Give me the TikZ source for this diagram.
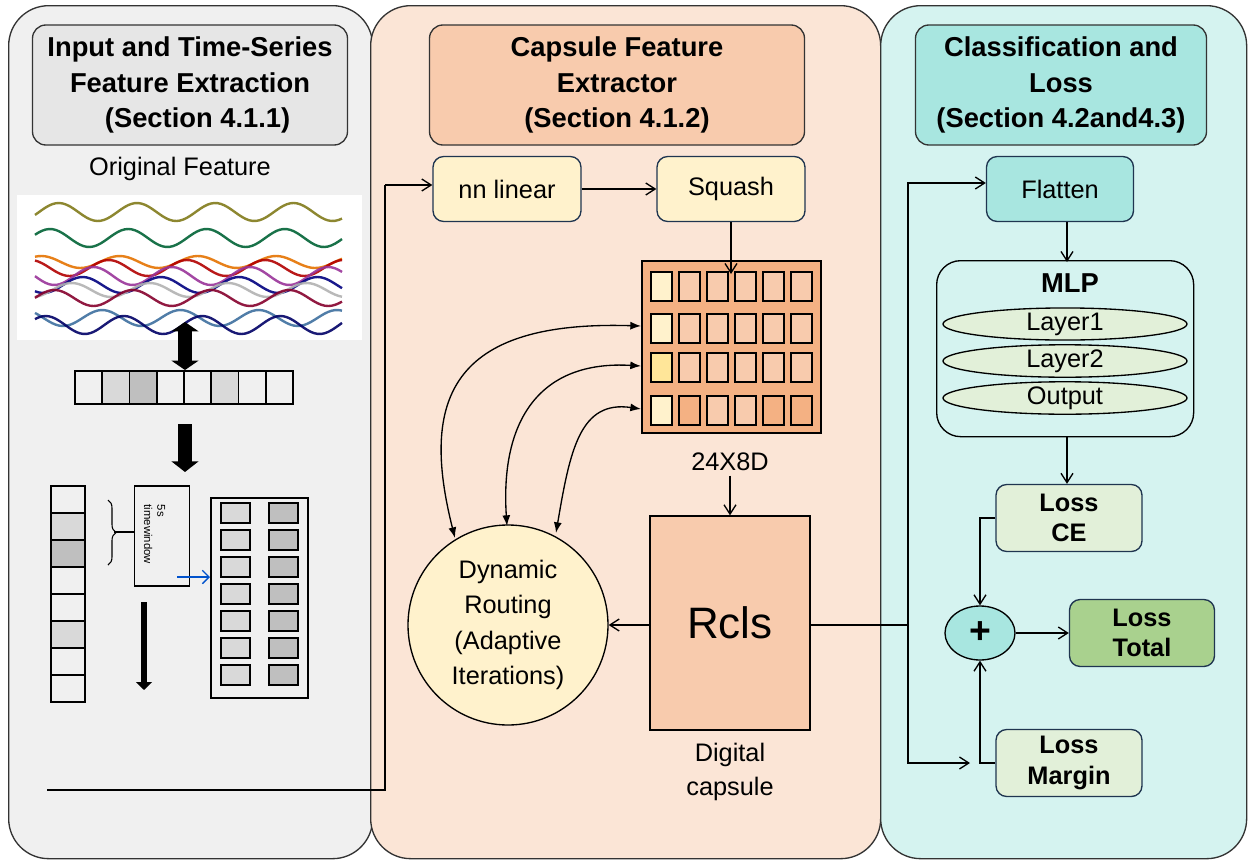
\documentclass[tikz,border=0pt]{standalone}
\usepackage{fontspec}
\setmainfont{Liberation Sans}
\usetikzlibrary{arrows.meta,shapes.geometric,decorations.pathreplacing}
\definecolor{pgray}{HTML}{F0F0F0}
\definecolor{hgray}{HTML}{E6E6E6}
\definecolor{ppeach}{HTML}{FBE5D6}
\definecolor{hpeach}{HTML}{F8CBAD}
\definecolor{dpeach}{HTML}{F4B183}
\definecolor{pcyan}{HTML}{D5F3F0}
\definecolor{hcyan}{HTML}{A8E6E0}
\definecolor{cream}{HTML}{FFF2CC}
\definecolor{ylw}{HTML}{FFE699}
\definecolor{lgreen}{HTML}{E2F0D9}
\definecolor{mgreen}{HTML}{A9D18E}
\definecolor{lg}{HTML}{D9D9D9}
\definecolor{mg}{HTML}{BFBFBF}
\definecolor{bord}{HTML}{1F3550}
\begin{document}
\begin{tikzpicture}[x=0.75pt,y=-0.75pt,
  panel/.style={draw=black!80,line width=1pt,rounded corners=30pt},
  head/.style={draw=black!80,line width=1pt,rounded corners=10pt,align=center,font=\fontsize{20.5}{26.5}\selectfont\bfseries},
  box/.style={draw=bord,line width=1pt,rounded corners=8pt,align=center,font=\fontsize{19}{22}\selectfont},
  bbox/.style={box,font=\fontsize{19}{23}\selectfont\bfseries},
  conn/.style={line width=1pt,-{Straight Barb[length=7pt,width=9pt]}},
  carr/.style={line width=1pt,{Latex[length=8pt]}-{Latex[length=8pt]}},
  cell/.style={draw=black,line width=1.4pt},
  lbl/.style={font=\fontsize{19}{26}\selectfont,align=center}]
\useasboundingbox (0,0) rectangle (1254,864);
% panels
\node[panel,fill=pgray,minimum width=364*0.75pt,minimum height=853*0.75pt,anchor=north west] (P1) at (8,5) {};
\node[panel,fill=ppeach,minimum width=510*0.75pt,minimum height=853*0.75pt,anchor=north west] (P2) at (370,5) {};
\node[panel,fill=pcyan,minimum width=366*0.75pt,minimum height=853*0.75pt,anchor=north west] (P3) at (880,5) {};
% headers
\node[head,fill=hgray,minimum width=315*0.75pt,minimum height=120*0.75pt] (H1) at (190,85) {Input and Time-Series\\Feature Extraction\\\ \ (Section 4.1.1)};
\node[head,fill=hpeach,minimum width=375*0.75pt,minimum height=120*0.75pt] (H2) at (617,85) {Capsule Feature\\Extractor\\(Section 4.1.2)};
\node[head,fill=hcyan,minimum width=291*0.75pt,minimum height=120*0.75pt] (H3) at (1061,85) {Classification and\\Loss\\(Section 4.2and4.3)};
% left panel
\node[lbl] (of) at (180,169) {Original Feature};
\node[fill=white,minimum width=345*0.75pt,minimum height=145*0.75pt,anchor=north west,inner sep=0] (img) at (17,195) {};
\foreach \y/\c/\ph/\a in {212/{olive!90!yellow!80!black}/0/9, 238/{teal!70!green!60!black}/40/9, 262/orange!90!black/80/6, 268/red!70!black/130/8, 276/violet!80/200/9, 285/{blue!50!black}/250/8, 290/gray!60/300/7, 298/purple!70!black/20/8, 318/{cyan!60!blue!70!black}/160/8, 325/{blue!40!black}/60/9}
  \draw[color=\c,line width=1.8pt,opacity=.9] plot[domain=35:342,samples=90,smooth] (\x,{\y+\a*sin(4.6*\x+\ph)});
\draw[line width=11pt,{Triangle[length=7pt,width=20pt]}-{Triangle[length=7pt,width=20pt]}] (185,322) -- (185,370);
\foreach \i/\f in {0/pgray,1/lg,2/mg,3/pgray,4/pgray,5/lg,6/pgray,7/pgray}
  \node[cell,fill=\f,minimum width=27.25*0.75pt,minimum height=33*0.75pt,inner sep=0,anchor=north west] (s\i) at ({74+27.25*\i},370) {};
\draw[line width=11pt,-{Triangle[length=8pt,width=20pt]}] (185,424) -- (185,472);
\foreach \i/\f in {0/pgray,1/lg,2/mg,3/pgray,4/pgray,5/lg,6/pgray,7/pgray}
  \node[cell,fill=\f,minimum width=34*0.75pt,minimum height=27*0.75pt,inner sep=0,anchor=north west] (v\i) at (50,{485+27*\i}) {};
\draw[line width=0.8pt,decorate,decoration={brace,amplitude=6pt}] (108,500) -- (108,565);
\draw[line width=0.8pt] (114,532) -- (135,532);
\node[draw=black,line width=1pt,fill=pgray,minimum width=55*0.75pt,minimum height=100*0.75pt,inner sep=0] (tw) at (162,536) {};
\node[rotate=-90,font=\fontsize{8.5}{10}\selectfont,align=left,anchor=north west] at (170,500) {5s\\timewindow};
\node[draw=black,line width=1.4pt,fill=pgray,minimum width=97*0.75pt,minimum height=200*0.75pt,inner sep=0,anchor=north west] (grid1) at (210,497) {};
\foreach \r in {0,...,6}{
  \node[cell,fill=lg,minimum width=29*0.75pt,minimum height=20*0.75pt,inner sep=0,anchor=north west] at (220,{502+27*\r}) {};
  \node[cell,fill=mg,minimum width=29*0.75pt,minimum height=20*0.75pt,inner sep=0,anchor=north west] at (268,{502+27*\r}) {};}
\draw[line width=1pt,-{Straight Barb[length=5pt]},color=blue!60!cyan!80!black] (177,577) -- (grid1.west|-0,577);
\draw[line width=5pt,-{Triangle[length=6pt,width=12pt]}] (144,602) -- (144,690);
% middle
\node[box,fill=cream,minimum width=148*0.75pt,minimum height=65*0.75pt] (nn) at (507,189) {nn linear};
\node[box,fill=cream,minimum width=148*0.75pt,minimum height=65*0.75pt] (sq) at (731,189) {Squash};
\coordinate (st) at (47,790);
\draw[line width=1pt] (st) -- (385,790) -- (385,185);
\draw[conn] (385,185) -- (nn.west|-0,185);
\draw[conn] (nn) -- (sq);
\node[draw=black,line width=1.4pt,fill=dpeach,minimum width=179*0.75pt,minimum height=172*0.75pt,inner sep=0,anchor=north west] (caps) at (641,260) {};
\foreach \r/\yy in {0/271,1/313,2/352,3/395}
 \foreach \c in {0,...,5}{
  \pgfmathsetmacro{\ff}{\c==0 ? (\r==2 ? 2 : 1) : ((\r==3 && (\c==1 || \c==4 || \c==5)) ? 3 : 0)}
  \ifcase\ff\relax \def\fc{hpeach}\or\def\fc{cream}\or\def\fc{ylw}\or\def\fc{dpeach}\fi
  \node[cell,fill=\fc,minimum width=21*0.75pt,minimum height=29*0.75pt,inner sep=0,anchor=north west] at ({650+28*\c},\yy) {};}
\draw[conn] (sq.south) -- (731,274);
\node[lbl] (dim) at (730,462) {24X8D};
\node[draw=black,line width=1pt,fill=hpeach,minimum width=160*0.75pt,minimum height=214*0.75pt,inner sep=0,font=\fontsize{33}{36}\selectfont] (rc) at (730,623) {Rcls};
\draw[conn] (dim.south) -- (rc.north);
\node[lbl] (dc) at (730,772) {Digital\\capsule};
\node[circle,draw=black,line width=1pt,fill=cream,minimum size=200*0.75pt,inner sep=0,lbl,font=\fontsize{19}{26.5}\selectfont] (dr) at (508,625) {Dynamic\\Routing\\(Adaptive\\Iterations)};
\draw[conn] (rc.west|-0,625) -- (dr.east|-0,625);
\draw[carr] (455,538) .. controls (420,400) and (450,320) .. (641,326);
\draw[carr] (507,526) .. controls (500,420) and (540,360) .. (641,366);
\draw[carr] (556,533) .. controls (570,450) and (580,400) .. (641,409);
% right
\node[box,fill=hcyan,minimum width=147*0.75pt,minimum height=65*0.75pt] (fl) at (1060,189) {Flatten};
\node[draw=black,line width=1pt,rounded corners=18pt,fill=pcyan,minimum width=257*0.75pt,minimum height=176*0.75pt,inner sep=0,anchor=north west] (mlp) at (936,260) {};
\node[font=\fontsize{20.5}{23}\selectfont\bfseries] at (1070,283) {MLP};
\foreach \n/\t/\yy in {l1/Layer1/324,l2/Layer2/361,l3/Output/398}
  \node[ellipse,draw=black,line width=1pt,fill=lgreen,minimum width=244*0.75pt,minimum height=30*0.75pt,inner sep=0,font=\fontsize{19}{20}\selectfont] (\n) at (1065,\yy) {\t};
\draw[conn] (1067,222) -- (1067,262);
\node[bbox,fill=lgreen,minimum width=146*0.75pt,minimum height=67*0.75pt] (ce) at (1069,518) {Loss\\CE};
\draw[conn] (1067,436) -- (ce.north-|1067,0);
\node[bbox,fill=lgreen,minimum width=146*0.75pt,minimum height=67*0.75pt] (lm) at (1069,763) {Loss\\Margin};
\node[bbox,fill=mgreen,minimum width=145*0.75pt,minimum height=67*0.75pt] (lt) at (1142,633) {Loss\\Total};
\node[ellipse,draw=black,line width=1pt,fill=hcyan,minimum width=70*0.75pt,minimum height=54*0.75pt,inner sep=0,font=\fontsize{28}{28}\selectfont\bfseries] (pl) at (980,633) {+};
\draw[line width=1pt] (rc.east|-0,625) -- (908,625);
\draw[conn] (908,625) -- (908,183) -- (fl.west|-0,183);
\draw[conn] (908,625) -- (908,763) -- (970,763);
\draw[conn] (ce.west) -- (980,518) -- (pl.north);
\draw[conn] (lm.west) -- (980,763) -- (pl.south);
\draw[conn] (pl.east) -- (lt.west);
\end{tikzpicture}
\end{document}
